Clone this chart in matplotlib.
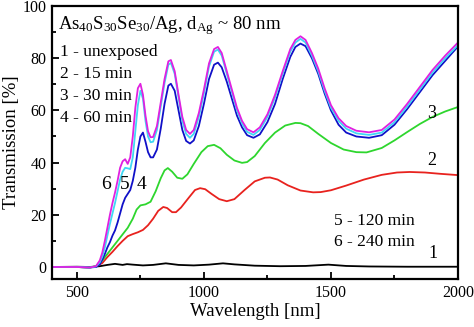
import numpy as np
import matplotlib.pyplot as plt
from matplotlib.ticker import MultipleLocator

plt.rcParams['font.family'] = ['Liberation Serif', 'DejaVu Serif']
plt.rcParams['mathtext.fontset'] = 'custom'
plt.rcParams['mathtext.rm'] = 'Liberation Serif'
plt.rcParams['mathtext.it'] = 'Liberation Serif:italic'

# wavelength grid for curves 4, 5, 6 (nm)
x_hi = [400, 500, 550, 575, 590, 600, 610, 620, 630, 640, 650, 660, 670, 680, 690, 700,
        710, 720, 730, 740, 750, 760, 770, 780, 790, 800, 815, 830, 845, 860, 870, 885,
        900, 915, 930, 945, 960, 980, 1000, 1020, 1040, 1055, 1070, 1090, 1110, 1130,
        1150, 1170, 1195, 1220, 1250, 1280, 1310, 1340, 1360, 1380, 1400, 1425, 1450,
        1475, 1500, 1530, 1560, 1600, 1650, 1700, 1750, 1800, 1850, 1900, 1950, 2000]

# 6 - 240 min
t240 = [0, 0, -0.2, 0.3, 2.5, 5.5, 10, 15, 20, 24.5, 28.5, 33, 38, 40.5, 41.3, 39.5,
        42, 50, 61, 68.5, 70.2, 66, 58, 52, 49.7, 49.8, 54, 63, 72, 78.8, 79.3, 75,
        66, 57.5, 52.5, 51, 52.5, 59, 68, 78, 83.5, 84.3, 82, 75, 68, 61,
        56, 52.8, 51.6, 53.5, 58.5, 66, 75, 83.5, 87, 88.4, 87, 82, 76,
        68.5, 62, 57, 54, 52.2, 51.6, 52.5, 56.5, 62.5, 69, 75.5, 81, 86]

# 5 - 120 min
t120 = [0, 0, -0.2, 0.2, 1.8, 4, 7.5, 12, 16.5, 20.5, 24.5, 29, 33.5, 36.5, 38, 37.8,
        37.5, 42, 52, 62, 67.5, 64.5, 56, 50, 47.8, 48, 52.5, 61.5, 70.5, 77.5, 78.2, 74,
        65, 56, 51, 49.5, 51, 57.5, 66.5, 76.8, 82.5, 83.3, 81, 74, 67, 60,
        55, 51.8, 50.6, 52.5, 57.5, 65, 74, 82.5, 86, 87.4, 86, 81, 75,
        67.5, 61, 56, 53, 51.2, 50.6, 51.5, 55.5, 61.5, 68, 74.5, 80, 85]

# 4 - 60 min
t60 = [0, 0, -0.2, 0, 1, 2.8, 5, 7.5, 9.5, 12, 14, 17, 20.5, 24, 26.5, 28,
       29.5, 33, 38, 45, 50, 51.5, 48, 44, 42, 42, 45, 53, 62.5, 69.5, 70.2, 67.5,
       60, 52.5, 48.3, 47.3, 48.5, 54, 62.5, 72, 77.5, 78.3, 76.5, 71, 64.5, 58,
       53.5, 50.5, 49.5, 50.8, 55.5, 62.5, 72, 80.5, 84.3, 85.6, 84.6, 80, 74,
       66.5, 60, 54.5, 51.5, 50, 49.5, 50.5, 54.5, 60.5, 67, 73.5, 79, 84.5]

# 3 - 30 min
x_30 = [400, 500, 550, 575, 600, 620, 640, 660, 680, 700, 720, 735, 750, 770, 790, 810,
        830, 845, 858, 875, 895, 915, 935, 960, 990, 1015, 1040, 1065, 1090, 1120, 1150,
        1170, 1200, 1240, 1280, 1320, 1360, 1380, 1410, 1450, 1500, 1550, 1600, 1640,
        1700, 1750, 1800, 1850, 1900, 1950, 2000]
t30 = [0, 0, -0.2, 0.3, 2.5, 5, 7.5, 10, 12.5, 15, 18.5, 22, 23.6, 24, 25, 29,
       34, 37, 37.9, 36.5, 34.2, 33.8, 35.5, 39.5, 44, 46.3, 46.8, 45.5, 43, 40.8, 39.9,
       40.2, 42.5, 47.5, 51.5, 54.2, 55.2, 55.1, 54, 51, 47.5, 45, 44, 43.9,
       45.6, 48.5, 51.7, 54.8, 57.5, 59.6, 61.3]

# 2 - 15 min
x_15 = [400, 500, 550, 575, 600, 620, 640, 660, 680, 700, 720, 740, 760, 780, 800, 820,
        840, 855, 875, 890, 910, 940, 965, 985, 1005, 1030, 1060, 1090, 1120, 1160, 1200,
        1240, 1260, 1290, 1330, 1380, 1430, 1460, 1500, 1560, 1630, 1700, 1760, 1810,
        1870, 1930, 2000]
t15 = [0, 0, -0.2, 0.2, 1.5, 3.8, 5.8, 8, 10, 11.8, 12.6, 13.3, 14.2, 16, 18.5, 21.5,
       23, 22.6, 21, 21, 22.8, 26.5, 29.5, 30.2, 29.8, 28, 26, 25.2, 26, 29.5, 32.8,
       34.2, 34.3, 33.5, 31.3, 29.3, 28.6, 28.7, 29.4, 31.2, 33.5, 35.3, 36.2, 36.4,
       36.2, 35.7, 35.2]

# 1 - unexposed
x_0 = [400, 500, 550, 590, 620, 650, 680, 697, 720, 760, 800, 850, 900, 960, 1020, 1075,
       1120, 1200, 1300, 1400, 1490, 1560, 1650, 1800, 2000]
t0 = [0, 0.1, 0, 0.3, 0.8, 1.2, 0.8, 1.1, 0.9, 0.6, 0.8, 1.4, 0.8, 0.6, 0.9, 1.4,
      1.0, 0.5, 0.3, 0.4, 0.9, 0.4, 0.2, 0.1, 0.1]

fig = plt.figure(figsize=(4.74, 3.27), dpi=100)
ax = fig.add_axes([0.1097, 0.1468, 0.8565, 0.8349])

lw = 1.3
ax.plot(x_0, t0, color='black', lw=lw)
ax.plot(x_15, t15, color='#e8221e', lw=lw)
ax.plot(x_30, t30, color='#2ed62e', lw=lw)
ax.plot(x_hi, t60, color='#1010c8', lw=lw)
ax.plot(x_hi, t120, color='#3fd8f4', lw=lw)
ax.plot(x_hi, t240, color='#e020e0', lw=lw)

ax.set_xlim(402, 2000)
ax.set_ylim(-4.6, 100)
ax.xaxis.set_major_locator(MultipleLocator(500))
ax.xaxis.set_minor_locator(MultipleLocator(250))
ax.yaxis.set_major_locator(MultipleLocator(20))
ax.yaxis.set_minor_locator(MultipleLocator(10))
ax.tick_params(which='both', direction='in', labelsize=11.5, width=1.3, pad=4)
ax.tick_params(which='major', length=5)
ax.tick_params(which='minor', length=3)
for s in ax.spines.values():
    s.set_linewidth(1.6)

ax.set_xlabel('Wavelength [nm]', fontsize=13.5, labelpad=2)
ax.set_ylabel('Transmission [%]', fontsize=13.5, labelpad=2)

ax.text(425, 92.5, r'As$_{40}$S$_{30}$Se$_{30}$/Ag, d$_{\mathrm{Ag}}$ ~ 80 nm',
        fontsize=13.5, va='center')
for yy, s in zip([82.2, 73.8, 65.4, 57.0],
                 ['1 - unexposed', '2 - 15 min', '3 - 30 min', '4 - 60 min']):
    ax.text(433, yy, s, fontsize=12.5, va='center')
ax.text(1512, 17.6, '5 - 120 min', fontsize=12.5, va='center')
ax.text(1512, 9.6, '6 - 240 min', fontsize=12.5, va='center')

ax.text(1882, 5.0, '1', fontsize=13, va='center')
ax.text(1878, 40.9, '2', fontsize=13, va='center')
ax.text(1878, 58.9, '3', fontsize=13, va='center')
ax.text(614, 31.7, '6', fontsize=14, va='center', ha='center')
ax.text(689, 31.7, '5', fontsize=14, va='center', ha='center')
ax.text(756, 31.7, '4', fontsize=14, va='center', ha='center')

fig.savefig('out.png', dpi=100)
